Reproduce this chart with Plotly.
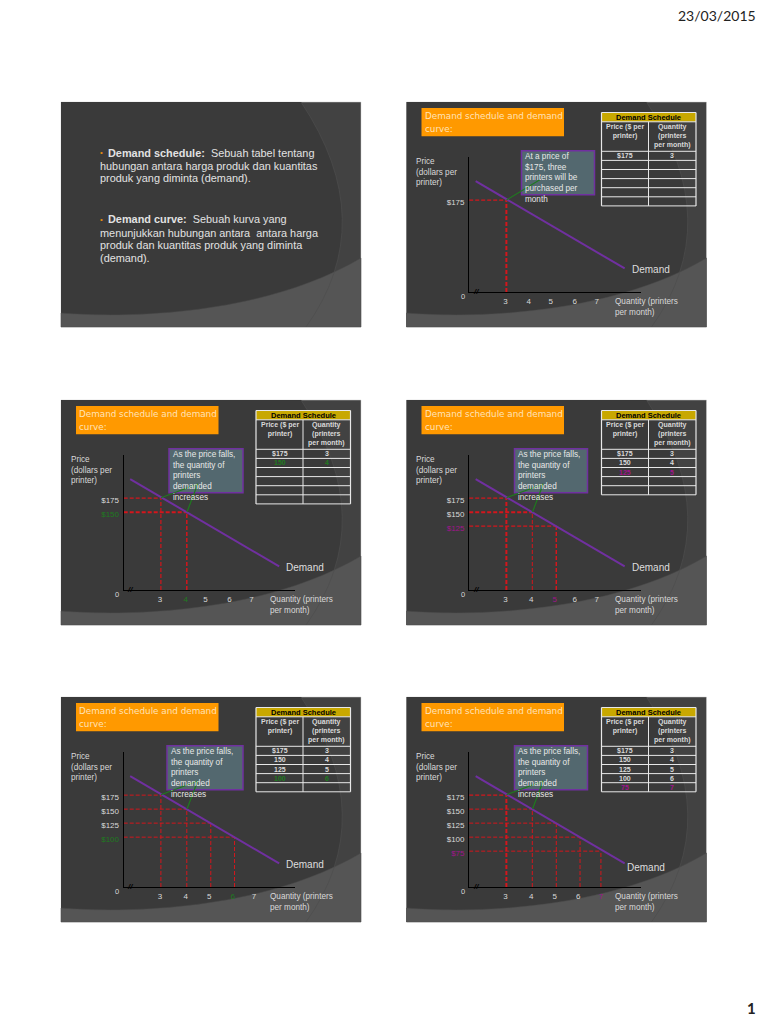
import plotly.graph_objects as go

# chart data
prices = [175, 150, 125, 100, 75]
quantities = [3, 4, 5, 6, 7]
price_labels = ['$175', '$150', '$125', '$100', '$75']
table_prices = ['$175', '150', '125', '100', '75']
point_q = [3, 4.08, 5.08, 6.07, 6.94]
demand_q = [1.72, 7.93]
demand_p = [209, 53]

# one entry per chart slide
points_shown = [1, 2, 3, 4, 5]
table_rows = [6, 6, 5, 5, 5]
highlight = ['#d9d9d9', '#1f7a1f', '#a0148c', '#1f7a1f', '#a0148c']
qty_label_pos = [
    [2.96, 3.93, 4.85, 5.85, 6.76],
    [2.96, 4.04, 4.86, 5.86, 6.78],
    [2.96, 4.03, 5.01, 5.85, 6.76],
    [2.96, 4.03, 5.01, 5.99, 6.88],
    [2.96, 4.03, 5.01, 5.99, 6.94],
]
h_widths = [[1.2], [1.2, 2], [1.2, 2, 1.2], [1, 1, 1, 1], [1.2, 1, 1, 1, 1]]
v_widths = [[2], [1.2, 1.5], [2, 1, 1.5], [1, 1, 1, 1], [2, 1, 1, 1, 1]]
callouts = ['At a price of<br>$175, three<br>printers will be<br>purchased per<br>month'] + \
           ['As the price falls,<br>the quantity of<br>printers<br>demanded<br>increases'] * 4
callout_left = [115, 108, 108, 106, 108]
callout_right = [188, 182, 181, 182, 181]
demand_label_x = [224, 224, 224, 224, 219]
demand_label_y = [167, 167, 167, 167, 170]

slide_origins = [(61, 102), (406.5, 102), (61, 400), (406.5, 400), (61, 697), (406.5, 697)]
Q_RANGE = [1.45, 8.59]
P_RANGE = [11, 252]

LIGHT = '#d9d9d9'
PURPLE = '#7030a0'
RED = '#d4161c'
GREEN = '#1f7a1f'
DASH = '4px,2px'


def fx(x):
    return x / 768


def fy(y):
    return 1 - y / 1024


shapes = []
annotations = []


def text(x, y, s, size=7.5, color=LIGHT, anchor='left', family='Liberation Sans'):
    annotations.append(dict(x=fx(x), y=fy(y), xref='paper', yref='paper', text=s, showarrow=False,
                            xanchor=anchor, yanchor='middle', align=anchor, borderpad=0,
                            font=dict(size=size, color=color, family=family)))


def rect(x0, y0, x1, y1, fill, line=None, width=1, layer='above'):
    shapes.append(dict(type='rect', xref='paper', yref='paper', x0=fx(x0), y0=fy(y0), x1=fx(x1), y1=fy(y1),
                       fillcolor=fill, line=dict(color=line or 'rgba(0,0,0,0)', width=width if line else 0),
                       layer=layer))


def segment(x0, y0, x1, y1, color, width=1):
    shapes.append(dict(type='line', xref='paper', yref='paper', x0=fx(x0), y0=fy(y0), x1=fx(x1), y1=fy(y1),
                       line=dict(color=color, width=width), layer='above'))


def background(ox, oy):
    rect(ox, oy, ox + 300, oy + 225, '#424242', '#cfcfcf', 0.5, layer='below')
    # main dark circle
    p = lambda x, y: f'{fx(ox + x):.5f},{fy(oy + y):.5f}'
    shapes.append(dict(type='path', xref='paper', yref='paper', layer='below', fillcolor='#3a3a3a',
                       line=dict(width=0),
                       path=f'M{p(0, 0)} L{p(240, 0)} Q{p(320, 120)} {p(245, 225)} L{p(0, 225)} Z'))
    # lighter band along the bottom
    shapes.append(dict(type='path', xref='paper', yref='paper', layer='below', fillcolor='#555555',
                       line=dict(color='#4a4a4a', width=0.5),
                       path=f'M{p(0, 211)} C{p(60, 216)} {p(200, 215)} {p(300, 156)} L{p(300, 225)} L{p(0, 225)} Z'))
    shapes.append(dict(type='path', xref='paper', yref='paper', layer='below',
                       line=dict(color='#4d4d4d', width=0.7),
                       path=f'M{p(240, 0)} Q{p(320, 120)} {p(245, 225)}'))


for ox, oy in slide_origins:
    background(ox, oy)

# first slide is text only
ox, oy = slide_origins[0]
for y, s in [(50.7, '<b>Demand schedule:</b>\u00a0 Sebuah tabel tentang'),
             (64, 'hubungan antara harga produk dan kuantitas'),
             (76.3, 'produk yang diminta (demand).'),
             (117, '<b>Demand curve:</b>\u00a0 Sebuah kurva yang'),
             (130.7, 'menunjukkan hubungan antara\u00a0 antara harga'),
             (143, 'produk dan kuantitas produk yang diminta'),
             (156, '(demand).')]:
    start = 45.5 if '<b' in s else 38
    text(ox + start, oy + y, s, size=10.9, color='#e2e2e2')
text(ox + 38, oy + 50.7, '\u2022', size=8, color='#e08a10')
text(ox + 38, oy + 117, '\u2022', size=8, color='#e08a10')

fig = go.Figure()

for i in range(5):
    ox, oy = slide_origins[i + 1]
    n = i + 1
    xa, ya = f'x{n if n > 1 else ""}', f'y{n if n > 1 else ""}'
    shown = points_shown[i]

    # guide lines first so the demand curve sits on top
    for k in range(shown):
        fig.add_trace(go.Scatter(x=Q_RANGE[:1] + [point_q[k]], y=[prices[k], prices[k]], xaxis=xa, yaxis=ya,
                                 mode='lines', line=dict(color=RED, width=h_widths[i][k], dash=DASH),
                                 showlegend=False, hoverinfo='skip'))
        fig.add_trace(go.Scatter(x=[point_q[k], point_q[k]], y=[P_RANGE[0], prices[k]], xaxis=xa, yaxis=ya,
                                 mode='lines', line=dict(color=RED, width=v_widths[i][k], dash=DASH),
                                 showlegend=False, hoverinfo='skip'))
    fig.add_trace(go.Scatter(x=demand_q, y=demand_p, xaxis=xa, yaxis=ya, mode='lines',
                             line=dict(color=PURPLE, width=2), showlegend=False, hoverinfo='skip'))

    # the newest point on each slide gets the highlight colour
    y_text = []
    for k in range(shown):
        c = highlight[i] if k == shown - 1 else LIGHT
        y_text.append(f'<span style="color:{c}">{price_labels[k]}</span>')
    x_text = []
    for k, q in enumerate(quantities):
        c = highlight[i] if k == shown - 1 else LIGHT
        x_text.append(f'<span style="color:{c}">{q}</span>')

    fig.update_layout({
        f'xaxis{n if n > 1 else ""}': dict(
            domain=[fx(ox + 62.7), fx(ox + 234)], range=Q_RANGE, anchor=ya, showgrid=False, zeroline=False,
            showline=True, linecolor='black', linewidth=1.2, ticks='', tickvals=qty_label_pos[i], ticktext=x_text,
            ticklabelstandoff=1, tickfont=dict(size=8, color=LIGHT, family='Liberation Sans'), fixedrange=True),
        f'yaxis{n if n > 1 else ""}': dict(
            domain=[fy(oy + 190), fy(oy + 55)], range=P_RANGE, anchor=xa, showgrid=False, zeroline=False,
            showline=True, linecolor='black', linewidth=1.2, ticks='', tickvals=prices[:shown], ticktext=y_text,
            ticklabelstandoff=2, ticklabelshift=2, tickfont=dict(size=8, color=LIGHT, family='Liberation Sans'),
            fixedrange=True),
    })

    # title box
    rect(ox + 15, oy + 6, ox + 157.5, oy + 34.3, '#ff9900')
    text(ox + 17.3, oy + 14, 'Demand schedule and demand', size=8.8, color='#ffe3b8', family='DejaVu Sans')
    text(ox + 17.3, oy + 26.5, 'curve:', size=8.8, color='#ffe3b8', family='DejaVu Sans')

    # schedule table
    rows = table_rows[i]
    left, mid, right = ox + 195, ox + 242, ox + 289.5
    top, head, first, rh = oy + 10.5, oy + 19.8, oy + 49.3, 9.1
    bottom = first + rows * rh
    rect(left, top, right, head, '#c8a800')
    text((left + right) / 2, (top + head) / 2, '<b>Demand Schedule</b>', size=7.5, color='black', anchor='center')
    text((left + mid) / 2, oy + 29, '<b>Price ($ per<br>printer)</b>', size=7, anchor='center')
    text((mid + right) / 2, oy + 34, '<b>Quantity<br>(printers<br>per month)</b>', size=7, anchor='center')
    for r in range(rows + 1):
        segment(left, first + r * rh, right, first + r * rh, '#e8e8e8', 1)
    segment(left, head, right, head, '#e8e8e8', 1)
    segment(left, top, right, top, '#e8e8e8', 1.2)
    segment(left, top, left, bottom, '#e8e8e8', 1.2)
    segment(right, top, right, bottom, '#e8e8e8', 1.2)
    segment(mid, head, mid, bottom, '#e8e8e8', 1)
    for k in range(shown):
        c = highlight[i] if (k == shown - 1 and i > 0) else LIGHT
        y = first + (k + 0.5) * rh
        text((left + mid) / 2, y, f'<b>{table_prices[k]}</b>', size=7, color=c, anchor='center')
        text((mid + right) / 2, y, f'<b>{quantities[k]}</b>', size=7, color=c, anchor='center')

    # callout with its leader lines
    rect(ox + callout_left[i], oy + 48.7, ox + callout_right[i], oy + 92.8, '#53686f', PURPLE, 1.5)
    if i == 0:
        segment(ox + 100, oy + 98, ox + 133.3, oy + 77.7, GREEN, 1.2)
    else:
        segment(ox + 100, oy + 97.7, ox + 136.7, oy + 84, GREEN, 1.2)
        segment(ox + 126, oy + 112, ox + 136.7, oy + 84, GREEN, 1.2)
    text(ox + callout_left[i] + 2.8, oy + 75.5, callouts[i], size=8.2, color='#e8e8e8')

    # axis text
    text(ox + 8.7, oy + 70, 'Price<br>(dollars per<br>printer)', size=8.2)
    text(ox + 207.7, oy + 204.5, 'Quantity (printers<br>per month)', size=8.2)
    text(ox + 56, oy + 194.3, '0', anchor='center')
    text(ox + 69.3, oy + 189.5, '<i><b>//</b></i>', size=8, color='black', anchor='center')
    text(ox + demand_label_x[i], oy + demand_label_y[i], 'Demand', size=10, color='#dedede')

# page furniture
text(757, 15, '23/03/2015', size=14, color='#222222', anchor='right', family='Lato')
text(757, 1008, '<b>1</b>', size=15, color='#222222', anchor='right', family='Lato')

fig.update_layout(width=768, height=1024, margin=dict(l=0, r=0, t=0, b=0), paper_bgcolor='white',
                  plot_bgcolor='rgba(0,0,0,0)', showlegend=False, shapes=shapes, annotations=annotations)
fig.write_html("out.html", config={'displayModeBar': False},
               post_script="document.body.style.margin='0';")
